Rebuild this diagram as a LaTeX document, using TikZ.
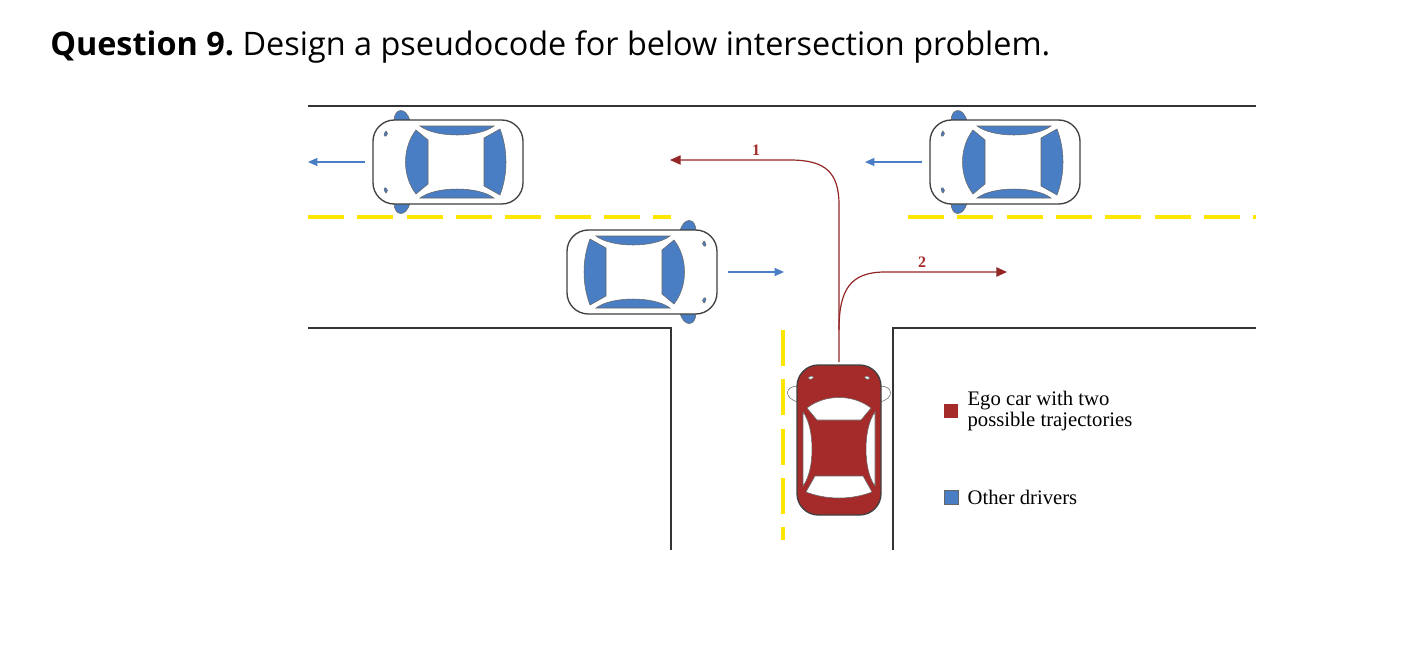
\documentclass[tikz,border=0pt]{standalone}
\usepackage{fontspec}
\setmainfont{Liberation Serif}
\newfontfamily\titlefont{Open Sans}
\usetikzlibrary{arrows.meta}
\definecolor{carblue}{HTML}{4A7EC4}
\definecolor{carred}{HTML}{A52A2A}
\definecolor{roadyellow}{HTML}{FFE600}
\tikzset{
  x=0.75pt,y=-0.75pt,
  road/.style={line width=1pt,black!80},
  lane/.style={line width=3pt,roadyellow,dash pattern=on 27pt off 10pt},
  mv/.style={carblue,line width=1pt,-{Triangle[length=7pt,width=6pt]}},
  traj/.style={carred!90!black,line width=0.9pt,-{Triangle[length=8pt,width=7pt]}},
  lbl/.style={font=\fontsize{12}{12}\selectfont,carred},
  leg/.style={font=\fontsize{15.5}{14}\selectfont,align=left,anchor=west,inner sep=1pt},
  pics/car/.style 2 args={code={
    \filldraw[fill=#2,draw=black!60] (38,-41) .. controls (42,-56) and (54,-54) .. (54,-41) -- cycle;
    \filldraw[fill=#2,draw=black!60] (38,41) .. controls (42,56) and (54,54) .. (54,41) -- cycle;
    \filldraw[fill=#1,draw=black!75,line width=1pt,rounded corners=16] (-75,-42) rectangle (75,42);
    \filldraw[fill=#2,draw=black!60] (20,-22) -- (32,-32) .. controls (46,-14) and (46,14) .. (32,32) -- (20,22) -- cycle;
    \filldraw[fill=#2,draw=black!60] (-36,-24) -- (-52,-33) .. controls (-60,-12) and (-60,12) .. (-52,33) -- (-36,24) -- cycle;
    \filldraw[fill=#2,draw=black!60] (-46,-36) -- (28,-36) .. controls (12,-24) and (-30,-24) .. cycle;
    \filldraw[fill=#2,draw=black!60] (-46,36) -- (28,36) .. controls (12,24) and (-30,24) .. cycle;
    \filldraw[fill=#2,draw=black!60] (62,-31) .. controls (65,-28) and (64,-25) .. (62,-26) .. controls (60,-27) and (60,-30) .. cycle;
    \filldraw[fill=#2,draw=black!60] (62,31) .. controls (65,28) and (64,25) .. (62,26) .. controls (60,27) and (60,30) .. cycle;
  }}
}
\begin{document}
\begin{tikzpicture}
\useasboundingbox (0,0) rectangle (1416,664);
\node[anchor=base west,font=\titlefont\fontsize{24.3}{24}\selectfont,inner sep=0] (title) at (50,55) {\textbf{Question 9.}\hspace{-2pt} Design a pseudocode for below intersection problem.};
% roads
\draw[road] (308,106) -- (1256,106);
\draw[road] (308,328) -- (671,328) -- (671,550);
\draw[road] (893,550) -- (893,328) -- (1256,328);
\draw[lane] (308,217) -- (671,217);
\draw[lane] (908,217) -- (1256,217);
\draw[lane] (783,330) -- (783,540);
% cars
\pic[rotate=180] (c1) at (448,162) {car={white}{carblue}};
\pic[rotate=180] (c2) at (1005,162) {car={white}{carblue}};
\pic (c3) at (642,272) {car={white}{carblue}};
\pic[rotate=90] (ego) at (839,440) {car={carred}{white}};
% motion arrows
\coordinate (a1s) at (365,162); \coordinate (a1e) at (308,162);
\coordinate (a2s) at (922,162); \coordinate (a2e) at (865,162);
\coordinate (a3s) at (728,272); \coordinate (a3e) at (784,272);
\draw[mv] (a1s) -- (a1e);
\draw[mv] (a2s) -- (a2e);
\draw[mv] (a3s) -- (a3e);
% trajectories
\coordinate (ts) at (839,362);
\coordinate (t1) at (670,160);
\coordinate (t2) at (1007,272);
\draw[traj] (ts) -- (839,205) .. controls (839,172) and (825,160) .. (790,160) -- (t1);
\draw[traj] (839,330) .. controls (839,290) and (850,272) .. (885,272) -- (t2);
\node[lbl] (l1) at (756,150) {\textbf{1}};
\node[lbl] (l2) at (922,262) {\textbf{2}};
% legend
\node[fill=carred,minimum size=10.5pt,inner sep=0] (s1) at (951,411) {};
\node[leg] (t1l) at (966,411) {Ego car with two\\possible trajectories};
\node[fill=carblue,draw=black!60,minimum size=10.5pt,inner sep=0] (s2) at (951,497) {};
\node[leg] (t2l) at (966,497) {Other drivers};
\end{tikzpicture}
\end{document}
